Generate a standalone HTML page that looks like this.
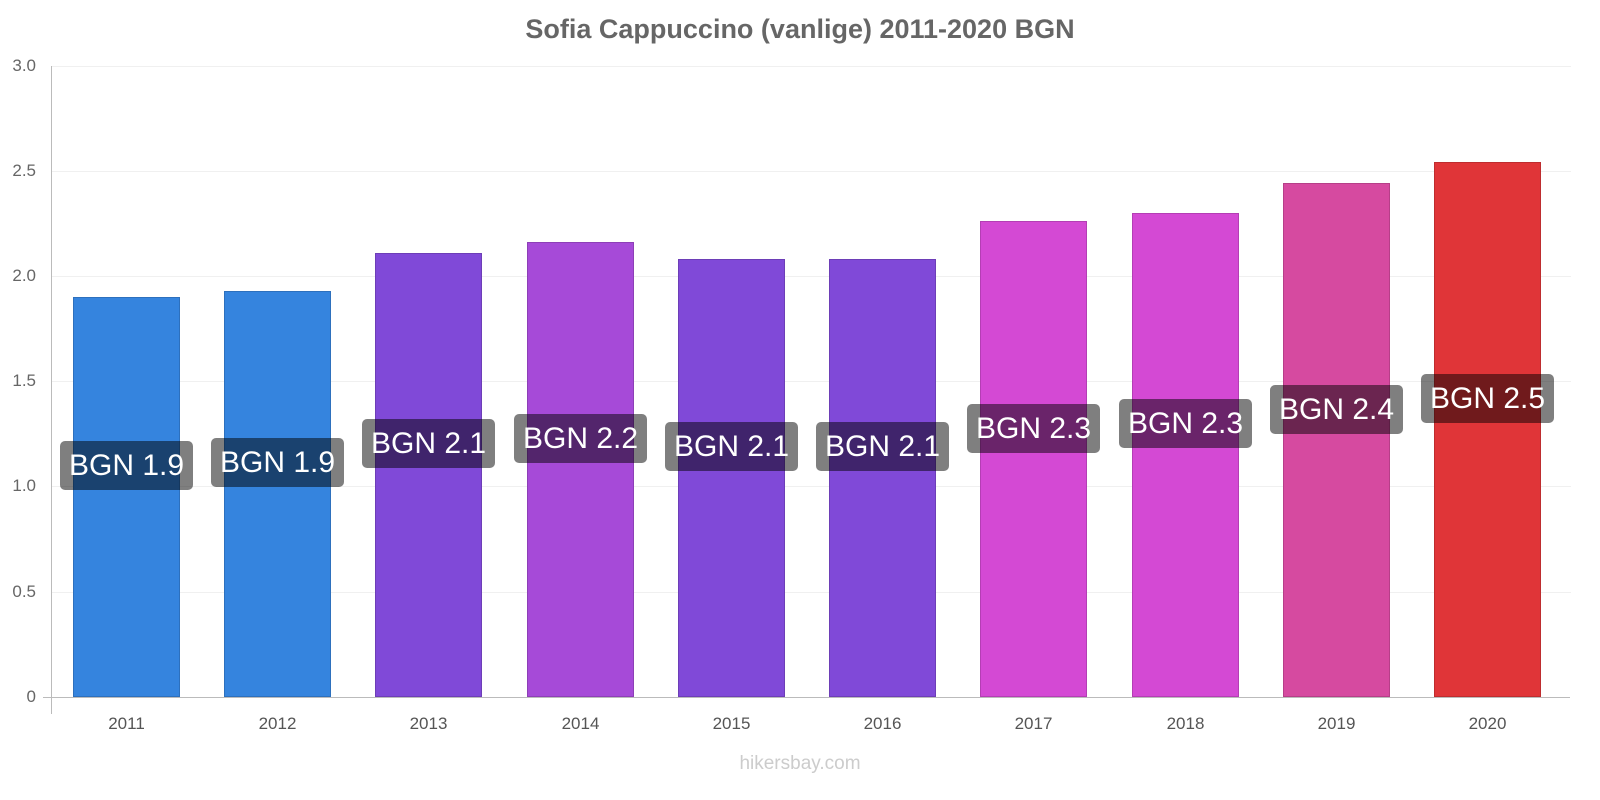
<!DOCTYPE html>
<html><head><style>
body{margin:0;width:1600px;height:800px;background:#fff;position:relative;font-family:"Liberation Sans",sans-serif;overflow:hidden}
.t{position:absolute;top:14px;left:0;width:1600px;text-align:center;font-size:27px;font-weight:bold;color:#666}
.g{position:absolute;left:51px;width:1520px;height:1px;background:#f0f0f0}
.yl{position:absolute;left:0;width:36px;text-align:right;font-size:17px;color:#666}
.b{position:absolute;width:107px;bottom:103px;box-sizing:border-box;border:1px solid rgba(0,0,0,0.15)}
.xl{position:absolute;top:714px;width:107px;text-align:center;font-size:17px;color:#555}
.lb{position:absolute;width:133px;height:49px;line-height:49px;text-align:center;background:rgba(0,0,0,0.5);border-radius:5px;color:#fff;font-size:30px}
</style></head><body>
<div class="t">Sofia Cappuccino (vanlige) 2011-2020 BGN</div>
<div class="g" style="top:66px"></div><div class="g" style="top:171px"></div><div class="g" style="top:276px"></div><div class="g" style="top:381px"></div><div class="g" style="top:486px"></div><div class="g" style="top:592px"></div>
<div style="position:absolute;left:51px;top:66px;width:1px;height:648px;background:#bbb"></div>
<div style="position:absolute;left:43px;top:697px;width:1527px;height:1px;background:#bbb"></div>
<div class="yl" style="top:56px">3.0</div><div class="yl" style="top:161px">2.5</div><div class="yl" style="top:266px">2.0</div><div class="yl" style="top:371px">1.5</div><div class="yl" style="top:476px">1.0</div><div class="yl" style="top:582px">0.5</div><div class="yl" style="top:687px">0</div>
<div class="b" style="left:73px;top:297px;background:#3584de"></div>
<div class="b" style="left:224px;top:291px;background:#3584de"></div>
<div class="b" style="left:375px;top:253px;background:#8049d8"></div>
<div class="b" style="left:527px;top:242px;background:#a64ad8"></div>
<div class="b" style="left:678px;top:259px;background:#8049d8"></div>
<div class="b" style="left:829px;top:259px;background:#8049d8"></div>
<div class="b" style="left:980px;top:221px;background:#d449d4"></div>
<div class="b" style="left:1132px;top:213px;background:#d449d4"></div>
<div class="b" style="left:1283px;top:183px;background:#d64aa0"></div>
<div class="b" style="left:1434px;top:162px;background:#e03538"></div>
<div class="xl" style="left:73px">2011</div><div class="xl" style="left:224px">2012</div><div class="xl" style="left:375px">2013</div><div class="xl" style="left:527px">2014</div><div class="xl" style="left:678px">2015</div><div class="xl" style="left:829px">2016</div><div class="xl" style="left:980px">2017</div><div class="xl" style="left:1132px">2018</div><div class="xl" style="left:1283px">2019</div><div class="xl" style="left:1434px">2020</div>
<div class="lb" style="left:60px;top:441px">BGN 1.9</div>
<div class="lb" style="left:211px;top:438px">BGN 1.9</div>
<div class="lb" style="left:362px;top:419px">BGN 2.1</div>
<div class="lb" style="left:514px;top:414px">BGN 2.2</div>
<div class="lb" style="left:665px;top:422px">BGN 2.1</div>
<div class="lb" style="left:816px;top:422px">BGN 2.1</div>
<div class="lb" style="left:967px;top:404px">BGN 2.3</div>
<div class="lb" style="left:1119px;top:399px">BGN 2.3</div>
<div class="lb" style="left:1270px;top:385px">BGN 2.4</div>
<div class="lb" style="left:1421px;top:374px">BGN 2.5</div>
<div style="position:absolute;top:753px;left:0;width:1600px;text-align:center;font-size:19px;color:#ccc">hikersbay.com</div>
</body></html>
